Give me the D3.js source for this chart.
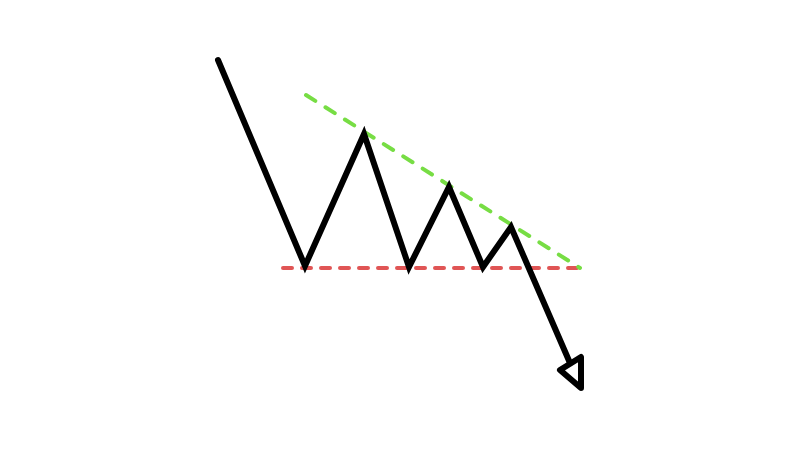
<!DOCTYPE html>
<html>
<head>
<meta charset="utf-8">
<script src="https://cdn.jsdelivr.net/npm/d3@7"></script>
<style>
  html, body { margin: 0; padding: 0; background: #fff; }
  svg { display: block; }
</style>
</head>
<body>
<script>
// descending triangle sketch
const w = 800;
const h = 450;

// price path (time, price)
const pathTime  = [218, 305, 364, 409, 449, 483, 511, 570];
const pathPrice = [390, 184, 316, 183, 263, 183, 223, 87];

// arrow head (open triangle)
const headTime  = [560, 581, 581];
const headPrice = [80, 93, 62];

// trend lines
const resistTime  = [306, 580];
const resistPrice = [355, 182];
const supportTime  = [283, 580];
const supportPrice = [182, 182];

const xScale = d3.scaleLinear().domain([0, w]).range([0, w]);
const yScale = d3.scaleLinear().domain([0, h]).range([h, 0]);

const svg = d3.select('body')
  .append('svg')
  .attr('width', w)
  .attr('height', h);

const line = d3.line()
  .x((d) => xScale(d[0]))
  .y((d) => yScale(d[1]));

// support (red)
svg.append('path')
  .datum(d3.zip(supportTime, supportPrice))
  .attr('d', line)
  .attr('fill', 'none')
  .attr('stroke', '#e05555')
  .attr('stroke-width', 4)
  .attr('stroke-linecap', 'round')
  .attr('stroke-dasharray', '9,10');

// resistance (green)
svg.append('path')
  .datum(d3.zip(resistTime, resistPrice))
  .attr('d', line)
  .attr('fill', 'none')
  .attr('stroke', '#77dd44')
  .attr('stroke-width', 4)
  .attr('stroke-linecap', 'round')
  .attr('stroke-dasharray', '11,12');

// price zigzag
svg.append('path')
  .datum(d3.zip(pathTime, pathPrice))
  .attr('d', line)
  .attr('fill', 'none')
  .attr('stroke', '#000')
  .attr('stroke-width', 6)
  .attr('stroke-linecap', 'round')
  .attr('stroke-linejoin', 'miter');

svg.append('path')
  .datum(d3.zip(headTime, headPrice))
  .attr('d', (d) => line(d) + 'Z')
  .attr('fill', '#fff')
  .attr('stroke', '#000')
  .attr('stroke-width', 6)
  .attr('stroke-linejoin', 'round');
</script>
</body>
</html>
